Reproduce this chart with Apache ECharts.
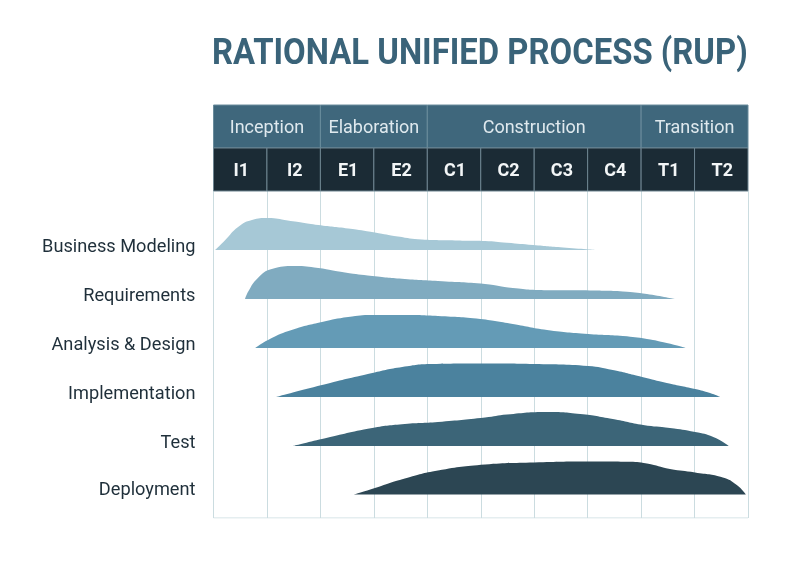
<!DOCTYPE html>
<html>
<head>
<meta charset="utf-8">
<style>html,body{margin:0;padding:0;background:#fff}#chart{width:800px;height:563px}</style>
<script src="https://cdn.jsdelivr.net/npm/echarts@6/dist/echarts.min.js"></script>
</head>
<body>
<div id="chart"></div>
<script>
const titleText = 'RATIONAL UNIFIED PROCESS (RUP)';

const disciplines = ['Business Modeling', 'Requirements', 'Analysis & Design', 'Implementation', 'Test', 'Deployment'];
const colors = ['#a6c8d6', '#80abc0', '#649bb6', '#4b829e', '#3c6578', '#2c4653'];

// phases and iterations, position in iteration units
const phases = ['Inception', 'Elaboration', 'Construction', 'Transition'];
const phaseStart = [0, 2, 4, 8];
const phaseEnd = [2, 4, 8, 10];
const iterations = ['I1', 'I2', 'E1', 'E2', 'C1', 'C2', 'C3', 'C4', 'T1', 'T2'];

// effort curves: position along the iterations, and hump height
const businessX = [0.03, 0.22, 0.46, 0.72, 1.02, 1.39, 1.96, 2.52, 3.02, 3.45, 3.9, 4.52, 5.08, 5.49, 5.98, 6.54, 7.17];
const businessY = [0, 10, 23, 30, 32, 29.5, 25, 21.5, 17.5, 13.5, 10.5, 9.6, 9.1, 7.3, 5, 2.5, 0];
const requirementsX = [0.59, 0.65, 0.83, 1.09, 1.52, 1.96, 2.46, 2.97, 3.58, 4.2, 5.08, 5.6, 6.24, 7.04, 7.66, 8.11, 8.63];
const requirementsY = [0, 7.5, 21, 30, 33, 31, 26.5, 23, 20, 18, 15, 11, 8.8, 8.5, 7.6, 5, 0];
const analysisX = [0.78, 1.09, 1.52, 2.03, 2.52, 2.97, 3.58, 4.2, 4.99, 5.6, 6.24, 7.01, 7.66, 8.11, 8.48, 8.84];
const analysisY = [0, 10, 19, 26, 31, 33, 33, 32, 29, 24, 18, 14, 12, 9, 5, 0];
const implementationX = [1.17, 2.03, 2.97, 3.53, 4.09, 5.08, 6.0, 7.01, 7.47, 8.02, 8.48, 9.01, 9.29, 9.48];
const implementationY = [0, 12, 24, 30, 33, 33.5, 33, 31, 27, 20, 14, 8, 4, 0];
const testX = [1.49, 2.03, 2.97, 3.58, 4.2, 5.08, 5.49, 6.24, 6.86, 7.47, 8.04, 8.54, 9.01, 9.35, 9.64];
const testY = [0, 7, 18, 22, 24, 28.5, 31.5, 34, 32, 27, 21, 18, 14, 9, 0];
const deploymentX = [2.63, 3.02, 3.58, 4.2, 5.08, 6.0, 7.01, 7.74, 8.11, 8.54, 9.01, 9.53, 9.79, 9.96];
const deploymentY = [0, 6.5, 16, 24, 30, 32, 33, 32.8, 31, 25.5, 22, 17, 9.5, 0];

const curveX = [businessX, requirementsX, analysisX, implementationX, testX, deploymentX];
const curveY = [businessY, requirementsY, analysisY, implementationY, testY, deploymentY];

// row baselines and label spots on the lane axis
const rowBase = [268, 219, 170, 121, 72, 23.5];
const labelPos = [271, 222, 173, 124, 75, 28];

const chart = echarts.init(document.getElementById('chart'), null, { renderer: 'canvas' });

const laneSeries = disciplines.map(function (name, i) {
    return {
        name: name,
        type: 'line',
        xAxisIndex: 0,
        yAxisIndex: 0,
        smooth: 0.5,
        symbol: 'none',
        lineStyle: { width: 0 },
        areaStyle: { color: colors[i], opacity: 1, origin: rowBase[i] },
        data: curveX[i].map(function (x, k) { return [x, rowBase[i] + curveY[i][k]]; }),
        z: 3
    };
});

// header cells: start, end, row, label
const headerCells = [];
phases.forEach(function (p, i) { headerCells.push([phaseStart[i], phaseEnd[i], 1, p]); });
iterations.forEach(function (p, i) { headerCells.push([i, i + 1, 0, p]); });

function renderHeader(params, api) {
    const row = api.value(2);
    const a = api.coord([api.value(0), row + 1]);
    const b = api.coord([api.value(1), row]);
    const cell = headerCells[params.dataIndex];
    return {
        type: 'group',
        children: [{
            type: 'rect',
            shape: { x: a[0], y: a[1], width: b[0] - a[0], height: b[1] - a[1] },
            style: { fill: row === 1 ? '#3f677c' : '#1b2b35', stroke: row === 1 ? '#6a8c9c' : '#6d8490', lineWidth: 1 }
        }, {
            type: 'text',
            x: (a[0] + b[0]) / 2 + (row === 1 ? 0 : 1),
            y: (a[1] + b[1]) / 2 + 1.5,
            style: {
                text: cell[3],
                fill: row === 1 ? '#dfe9ee' : '#f3f6f7',
                font: row === 1 ? '400 18px Roboto' : '700 18px Roboto',
                align: 'center',
                verticalAlign: 'middle'
            }
        }]
    };
}

const option = {
    animation: false,
    backgroundColor: '#fff',
    graphic: [{
        type: 'text',
        left: 212,
        top: 36,
        scaleX: 0.888,
        style: { text: titleText, fill: '#3a6379', font: '700 37px Roboto' }
    }],
    grid: [
        { left: 213.5, top: 191, width: 534.5, height: 327, containLabel: false },
        { left: 213.5, top: 105, width: 534.5, height: 86 }
    ],
    xAxis: [{
        type: 'value', gridIndex: 0, min: 0, max: 10, interval: 1,
        axisLine: { show: false }, axisTick: { show: false }, axisLabel: { show: false },
        splitLine: { show: true, lineStyle: { color: '#cbdce0', width: 1 } }
    }, {
        type: 'value', gridIndex: 1, min: 0, max: 10, interval: 1,
        axisLine: { show: false }, axisTick: { show: false }, axisLabel: { show: false },
        splitLine: { show: false }
    }],
    yAxis: [{
        type: 'value', gridIndex: 0, min: 0, max: 327,
        axisLine: { show: false }, splitLine: { show: false },
        axisTick: { show: false },
        axisLabel: {
            show: true,
            customValues: labelPos,
            margin: 18,
            color: '#1f2f3a',
            fontFamily: 'Roboto',
            fontSize: 18.2,
            formatter: function (v) { return disciplines[labelPos.indexOf(v)] || ''; }
        }
    }, {
        type: 'value', gridIndex: 1, min: 0, max: 2, interval: 1,
        axisLine: { show: false }, axisTick: { show: false }, axisLabel: { show: false },
        splitLine: { show: false }
    }],
    series: laneSeries.concat([{
        type: 'custom',
        xAxisIndex: 1,
        yAxisIndex: 1,
        renderItem: renderHeader,
        encode: { x: [0, 1], y: 2 },
        data: headerCells.map(function (c) { return c.slice(0, 3); }),
        z: 5
    }, {
        // bottom edge of the lanes
        type: 'line',
        xAxisIndex: 0,
        yAxisIndex: 0,
        symbol: 'none',
        lineStyle: { color: '#cbdce0', width: 1 },
        data: [[0, 0], [10, 0]],
        z: 1
    }])
};

chart.setOption(option);
</script>
</body>
</html>
